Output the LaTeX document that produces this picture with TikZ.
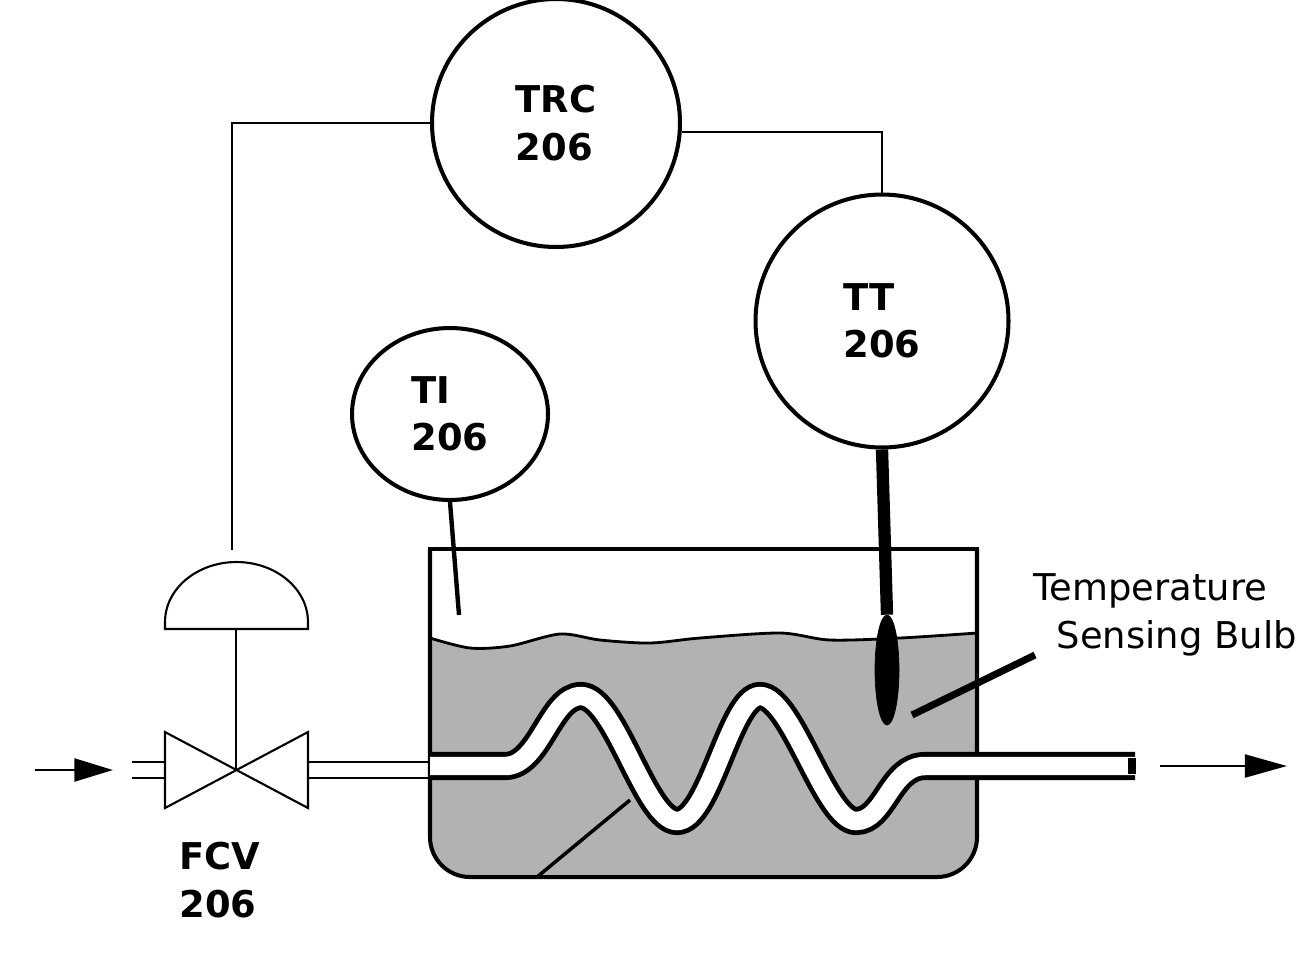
\documentclass[tikz,border=0pt]{standalone}
\usepackage{fontspec}
\setmainfont{DejaVu Sans}
\usetikzlibrary{shapes.geometric,arrows.meta}
\begin{document}
\begin{tikzpicture}
    [x=0.02cm,y=-0.02cm,
    inst/.style={draw,circle,line width=2.3pt,align=left,
      font=\fontsize{21}{27}\selectfont\bfseries},
    pipe/.style={line width=1.2pt},
    sig/.style={line width=1.1pt}]
    \useasboundingbox (0,0) rectangle (1310,958);
    % instruments
    \node[inst,minimum size=4.96cm] (trc) at (556,123) {TRC\\206};
    \node[inst,minimum size=5.06cm] (tt) at (882,321) {TT\\206};
    \node[inst,ellipse,minimum width=3.92cm,minimum height=3.44cm] (ti) at (450,414) {TI\\206};
    % tank contents
    \fill[gray!60] plot[smooth] coordinates {(430,638) (470,648) (510,646) (560,634)
      (600,640) (650,643) (700,638) (780,633) (830,640) (900,638) (977,633)}
      [rounded corners=0.8cm] -- (977,877) -- (430,877) [sharp corners] -- cycle;
    \draw[line width=1.6pt] plot[smooth] coordinates {(430,638) (470,648) (510,646)
      (560,634) (600,640) (650,643) (700,638) (780,633) (830,640) (900,638) (977,633)};
    \draw[line width=2.3pt,line cap=rect] (430,549) -- (977,549);
    \draw[line width=2.3pt,rounded corners=0.8cm] (430,549) -- (430,877) -- (977,877)
      -- (977,549);
    % leader to coil
    \draw[line width=2pt] (630,800) -- (537,877);
    % coil
    \def\coil{(430,766) -- (505,766) .. controls (540,766) and (550,696) .. (581,696)
      .. controls (615,696) and (645,821) .. (677,821)
      .. controls (710,821) and (730,696) .. (760,696)
      .. controls (792,696) and (825,821) .. (856,821)
      .. controls (885,821) and (890,766) .. (925,766) -- (1135,766)}
    \draw[line width=16pt] \coil;
    \draw[white,line width=10.5pt] \coil;
    \fill (1128,758) rectangle (1136,774);
    % sensing bulb
    \node[draw,fill,ellipse,minimum width=0.48cm,minimum height=2.2cm,inner sep=0pt]
      (bulb) at (887,670) {};
    \draw[line width=7pt] (tt.south) -- (bulb.north);
    \draw[line width=2.5pt] (ti.south) -- (459,615);
    \draw[line width=4pt] (1035,655) -- (912,715);
    \node[font=\fontsize{21}{27}\selectfont,align=left] (lbl) at (1165,615)
      {Temperature\\\ \ Sensing Bulb};
    % valve and actuator
    \coordinate (vc) at (236,770);
    \draw[pipe] (165,732) -- (165,808) -- (308,732) -- (308,808) -- cycle;
    \draw[pipe] (132,762) -- (165,762) (132,778) -- (165,778);
    \draw[pipe] (308,762) -- (430,762) (308,778) -- (430,778);
    \draw[pipe] (165,629) -- (165,622) arc[start angle=180,end angle=0,x radius=1.43cm,
      y radius=1.2cm] -- (308,629) -- cycle;
    \coordinate (act) at (236,629);
    \coordinate (stem) at (232,550);
    \draw[sig] (act) -- (vc);
    \draw[sig] (stem) |- (trc.west);
    \draw[sig] (trc.-4) -| (tt.north);
    \node[font=\fontsize{21}{27}\selectfont\bfseries,align=left] (fcv) at (220,880)
      {FCV\\206};
    % flow arrows
    \coordinate (in1) at (35,770); \coordinate (in2) at (113,770);
    \coordinate (out1) at (1160,766); \coordinate (out2) at (1287,766);
    \draw[line width=1.6pt,-{Triangle[length=22pt,width=13pt]}] (in1) -- (in2);
    \draw[line width=1.6pt,-{Triangle[length=24pt,width=13pt]}] (out1) -- (out2);
\end{tikzpicture}
\end{document}
